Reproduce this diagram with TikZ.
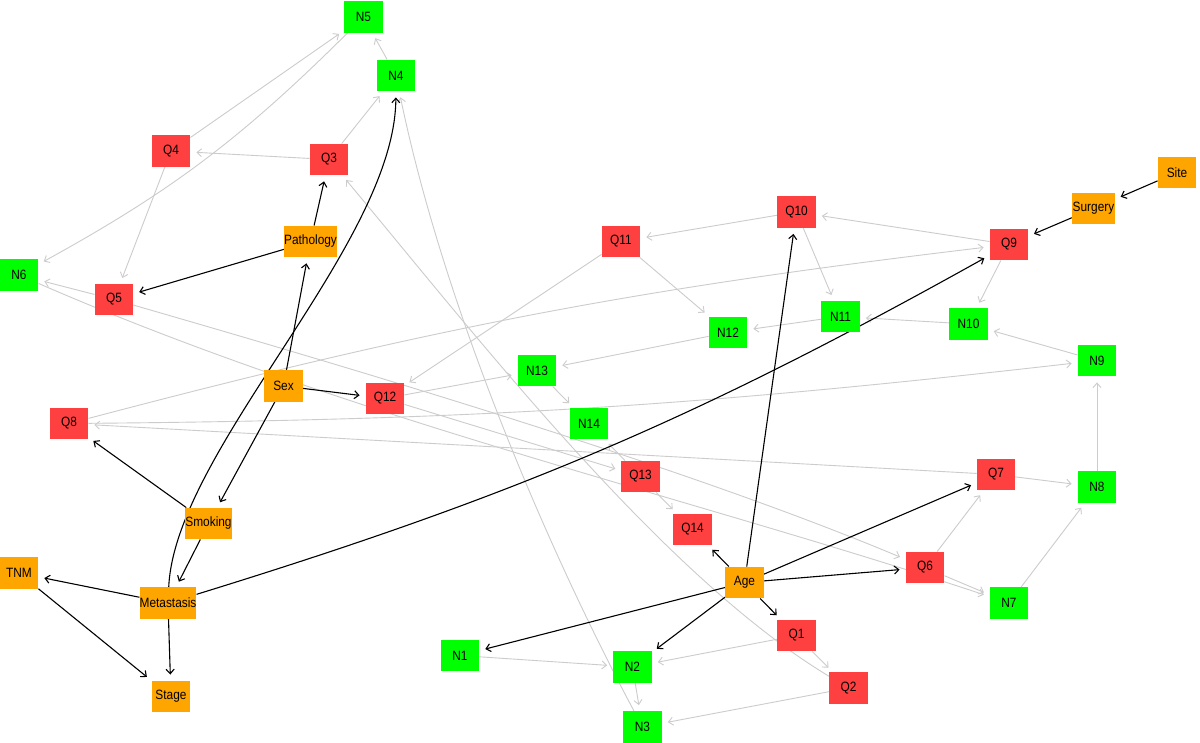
\documentclass[tikz,border=0pt]{standalone}
\usepackage{fontspec}
\setmainfont{Liberation Sans}[FakeStretch=0.88]
\usetikzlibrary{arrows.meta}
\pgfdeclarelayer{bg}
\pgfsetlayers{bg,main}
\definecolor{qred}{HTML}{FF4040}
\definecolor{ngreen}{HTML}{00FF00}
\definecolor{aorange}{HTML}{FFA500}
\definecolor{edgegray}{HTML}{CCCCCC}
\begin{document}
\begin{tikzpicture}[x=1pt,y=1pt,
  box/.style={minimum width=38.5pt,minimum height=31.5pt,inner sep=0pt,font=\fontsize{13.5}{13.5}\selectfont},
  qn/.style={box,fill=qred},
  nn/.style={box,fill=ngreen},
  cn/.style={box,fill=aorange},
  ge/.style={draw=edgegray,line width=0.9pt,-{Straight Barb[length=4.5pt,width=8pt]},shorten >=6pt},
  be/.style={draw=black,line width=1.1pt,-{Straight Barb[length=4.5pt,width=8pt]},shorten >=6pt},
]
\useasboundingbox (0,0) rectangle (1200,-743);
% nodes
\node[nn] (N5) at (363.5,-17) {N5};
\node[nn] (N4) at (396,-75.5) {N4};
\node[qn] (Q4) at (171,-151) {Q4};
\node[qn] (Q3) at (329,-159.5) {Q3};
\node[cn,minimum width=51pt] (Pat) at (310.5,-241.5) {Pathology};
\node[nn] (N6) at (19,-275) {N6};
\node[qn] (Q5) at (114,-299.5) {Q5};
\node[cn] (Sex) at (283.5,-386) {Sex};
\node[qn] (Q12) at (385,-398.5) {Q12};
\node[qn] (Q8) at (69,-423.5) {Q8};
\node[cn,minimum width=47pt] (Smo) at (208.5,-523.5) {Smoking};
\node[cn] (TNM) at (19,-573) {TNM};
\node[cn,minimum width=52pt] (Met) at (168,-603) {Metastasis};
\node[cn] (Sta) at (171,-696.5) {Stage};
\node[qn] (Q11) at (621,-241.5) {Q11};
\node[nn] (N12) at (728,-332.5) {N12};
\node[nn] (N13) at (537,-370.5) {N13};
\node[nn] (N14) at (589,-423.5) {N14};
\node[qn] (Q13) at (640.5,-476.5) {Q13};
\node[qn] (Q14) at (692.5,-529.5) {Q14};
\node[cn] (Age) at (744.5,-582.5) {Age};
\node[nn] (N1) at (460,-655.5) {N1};
\node[nn] (N2) at (632.5,-667) {N2};
\node[nn] (N3) at (642.5,-727) {N3};
\node[qn] (Q1) at (796.5,-635.5) {Q1};
\node[qn] (Q2) at (848.5,-688) {Q2};
\node[qn] (Q10) at (796.5,-212) {Q10};
\node[qn] (Q9) at (1009,-244.5) {Q9};
\node[cn,minimum width=43pt] (Sur) at (1093.5,-208.5) {Surgery};
\node[cn] (Site) at (1177,-172.5) {Site};
\node[nn] (N11) at (840.5,-316.5) {N11};
\node[nn] (N10) at (968.5,-324) {N10};
\node[nn] (N9) at (1097,-360.5) {N9};
\node[qn] (Q7) at (996,-474.5) {Q7};
\node[nn] (N8) at (1097,-487) {N8};
\node[qn] (Q6) at (925,-567.5) {Q6};
\node[nn] (N7) at (1009,-603) {N7};
% edges
\begin{pgfonlayer}{bg}
\fill[white] (0,0) rectangle (1200,-743);
% gray
\draw[ge] (N4) -- (N5);
\draw[ge] (Q3) -- (N4);
\draw[ge] (Q3) -- (Q4);
\draw[ge] (Q4) -- (N5);
\draw[ge] (N5) to[bend left=8] (N6);
\draw[ge] (Q4) -- (Q5);
\draw[ge] (Q5) -- (N6);
\draw[ge] (Q5) .. controls (400,-382) and (700,-473) .. (Q6);
\draw[ge] (N6) .. controls (350,-419) and (683,-495) .. (N7);
\draw[ge] (Q11) -- (Q12);
\draw[ge] (Q11) -- (N12);
\draw[ge] (Q10) -- (Q11);
\draw[ge] (Q10) -- (N11);
\draw[ge] (Q9) -- (Q10);
\draw[ge] (Q9) -- (N10);
\draw[ge] (N10) -- (N11);
\draw[ge] (N11) -- (N12);
\draw[ge] (N12) -- (N13);
\draw[ge] (N9) -- (N10);
\draw[ge] (N8) -- (N9);
\draw[ge] (N7) -- (N8);
\draw[ge] (Q7) -- (N8);
\draw[ge] (Q6) -- (Q7);
\draw[ge] (Q6) -- (N7);
\draw[ge] (Q7) -- (Q8);
\draw[ge] (Q8) to[bend right=3] (N9);
\draw[ge] (Q8) to[bend left=4] (Q9);
\draw[ge] (Q12) -- (N13);
\draw[ge] (N13) -- (N14);
\draw[ge] (Q12) -- (Q13);
\draw[ge] (Q13) -- (N14);
\draw[ge] (Q13) -- (Q14);
\draw[ge] (N1) -- (N2);
\draw[ge] (Q1) -- (N2);
\draw[ge] (Q1) -- (Q2);
\draw[ge] (N2) -- (N3);
\draw[ge] (Q2) -- (N3);
\draw[ge] (Q2) .. controls (661,-575) and (475,-334) .. (Q3);
\draw[ge] (N3) .. controls (539,-533) and (441,-294) .. (N4);
% black
\draw[be] (Site) -- (Sur);
\draw[be] (Sur) -- (Q9);
\draw[be] (Pat) -- (Q3);
\draw[be] (Pat) -- (Q5);
\draw[be] (Sex) -- (Pat);
\draw[be] (Sex) -- (Q12);
\draw[be] (Sex) -- (Smo);
\draw[be] (Smo) -- (Q8);
\draw[be] (Smo) -- (Met);
\draw[be] (Met) -- (TNM);
\draw[be] (Met) -- (Sta);
\draw[be] (TNM) -- (Sta);
\draw[be] (Met) .. controls (175,-450) and (395,-245) .. (N4);
\draw[be] (Met) to[bend right=6] (Q9);
\draw[be] (Age) -- (Q14);
\draw[be] (Age) -- (Q1);
\draw[be] (Age) -- (N2);
\draw[be] (Age) -- (N1);
\draw[be] (Age) -- (Q6);
\draw[be] (Age) -- (Q7);
\draw[be] (Age) -- (Q10);
\end{pgfonlayer}
\end{tikzpicture}
\end{document}
